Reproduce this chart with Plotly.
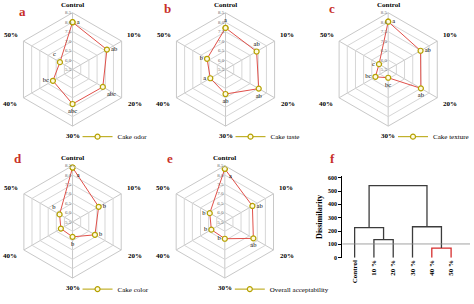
import math
import plotly.graph_objects as go

W, H = 474, 304

categories = ["Control", "10%", "20%", "30%", "40%", "50%"]

odor = [8.0, 7.6, 7.35, 7.33, 6.7, 6.27]
taste = [7.7, 7.4, 7.53, 6.8, 6.43, 6.63]
texture = [8.03, 7.48, 7.5, 5.94, 6.28, 6.06]
color = [8.4, 7.11, 6.88, 6.3, 6.22, 6.3]
overall = [8.33, 7.2, 7.26, 6.4, 6.33, 6.43]

odor_sig = ["a", "ab", "abc", "abc", "bc", "c"]
taste_sig = ["a", "ab", "ab", "ab", "a", "b"]
texture_sig = ["a", "ab", "ab", "bc", "bc", "c"]
color_sig = ["a", "b", "b", "b", "", "b"]
overall_sig = ["a", "ab", "ab", "b", "b", "b"]

series_names = ["Cake odor", "Cake taste", "Cake texture", "Cake color", "Overall acceptability"]
panel_letters = ["a", "b", "c", "d", "e", "f"]

leaves = ["Control", "10 %", "20 %", "30 %", "40 %", "50 %"]
# merges: (left node, right node, height); nodes 0..5 are leaves, 6.. are clusters
merges = [(1, 2, 135), (0, 6, 225), (4, 5, 72), (3, 8, 232), (7, 9, 540)]
cut_height = 103

SERIF = "Liberation Serif"
LINE_RED = "#e0504a"
OLIVE = "#b5a100"

# ---- layout geometry (pixels) ----
centers = [(72.7, 72.3), (226.0, 72.3), (389.0, 72.3), (72.7, 231.0), (225.3, 231.0)]
radii = [59, 59, 59, 58.5, 58.5]
textpos = [
    ["middle right", "middle right", "bottom right", "bottom center", "middle left", "top left"],
    ["top center", "top center", "bottom center", "bottom center", "middle left", "middle left"],
    ["middle right", "middle right", "bottom center", "bottom center", "middle left", "middle left"],
    ["bottom right", "middle right", "middle right", "bottom center", "middle left", "top left"],
    ["bottom right", "middle right", "bottom center", "middle left", "middle left", "middle left"],
]
data = [odor, taste, texture, color, overall]
sigs = [odor_sig, taste_sig, texture_sig, color_sig, overall_sig]

fig = go.Figure()
annotations = []
layout = dict(
    width=W, height=H, margin=dict(l=0, r=0, t=0, b=0),
    paper_bgcolor="white", plot_bgcolor="white",
    font=dict(family=SERIF, size=7, color="black"),
)

label_dist = [67, 71, 72, 69, 72, 71]
label_ang = [90, 30, -30, -90, -150, 150]

for i in range(5):
    pid = "polar" if i == 0 else f"polar{i+1}"
    lid = "legend" if i == 0 else f"legend{i+1}"
    cx, cy = centers[i]
    R = radii[i]
    vals = data[i]
    fig.add_trace(go.Scatterpolar(
        r=vals + [vals[0]], theta=categories + [categories[0]],
        mode="lines+markers+text", text=sigs[i] + [""],
        textposition=textpos[i] + ["middle right"],
        textfont=dict(family=SERIF, size=6.5, color="black"),
        line=dict(color=LINE_RED, width=1),
        marker=dict(symbol="circle", size=5, color="#fffbe0", line=dict(color=OLIVE, width=1.2)),
        subplot=pid, showlegend=False, cliponaxis=False,
    ))
    # legend entry
    fig.add_trace(go.Scatterpolar(
        r=[None], theta=[categories[0]], mode="lines+markers", name=series_names[i],
        line=dict(color=OLIVE, width=1),
        marker=dict(symbol="circle", size=5, color="#fffbe0", line=dict(color=OLIVE, width=1.2)),
        subplot=pid, showlegend=True, legend=lid,
    ))
    layout[pid] = dict(
        domain=dict(x=[(cx - R) / W, (cx + R) / W], y=[1 - (cy + R) / H, 1 - (cy - R) / H]),
        bgcolor="white",
        gridshape="linear",
        angularaxis=dict(categoryorder="array", categoryarray=categories,
                         direction="clockwise", rotation=90, showticklabels=False,
                         ticks="", linecolor="#c8c8c8", gridcolor="#c8c8c8", linewidth=1),
        radialaxis=dict(range=[5.5, 8.5], tick0=5.5, dtick=0.5, tickformat=".1f",
                        showline=False, ticks="", angle=90, tickangle=90,
                        side="counterclockwise", gridcolor="#d6d6d6",
                        tickfont=dict(family=SERIF, size=5, color="#666666")),
    )
    legy = cy + 70
    layout[lid] = dict(x=(cx + 5) / W, y=1 - legy / H, xanchor="left", yanchor="middle",
                       bgcolor="rgba(0,0,0,0)", font=dict(family=SERIF, size=7, color="black"),
                       itemwidth=30, tracegroupgap=0)
    for k, cat in enumerate(categories):
        a = math.radians(label_ang[k])
        d = label_dist[k]
        annotations.append(dict(
            x=(cx + d * math.cos(a)) / W, y=1 - (cy - d * math.sin(a)) / H,
            xref="paper", yref="paper", text=f"<b>{cat}</b>", showarrow=False,
            font=dict(family=SERIF, size=7, color="black"), xanchor="center", yanchor="middle"))

letter_pos = [(23, 12), (168, 9), (333, 9), (18, 165), (170, 165), (333, 165)]
for L, (lx, ly) in zip(panel_letters, letter_pos):
    annotations.append(dict(x=lx / W, y=1 - ly / H, xref="paper", yref="paper",
                            text=f"<b>{L}</b>", showarrow=False,
                            font=dict(family=SERIF, size=13, color="#c8302a"),
                            xanchor="center", yanchor="middle"))

# ---- dendrogram ----
node_x = {k: float(k) for k in range(len(leaves))}
node_h = {k: 0.0 for k in range(len(leaves))}
DEND = "#3c3c3c"
for j, (l, r, h) in enumerate(merges):
    nid = len(leaves) + j
    col = "#d62d2d" if (l < len(leaves) and r < len(leaves) and h < cut_height) else DEND
    fig.add_trace(go.Scatter(
        x=[node_x[l], node_x[l], node_x[r], node_x[r]],
        y=[node_h[l], h, h, node_h[r]],
        mode="lines", line=dict(color=col, width=1.3), showlegend=False,
        xaxis="x", yaxis="y", hoverinfo="skip"))
    node_x[nid] = (node_x[l] + node_x[r]) / 2
    node_h[nid] = h

fig.add_trace(go.Scatter(x=[-0.64, 5.98], y=[cut_height, cut_height], mode="lines",
                         line=dict(color="#8a8a8a", width=0.8), showlegend=False,
                         xaxis="x", yaxis="y", hoverinfo="skip"))

layout["xaxis"] = dict(domain=[343 / W, 471 / W], range=[-0.64, 5.98], tickvals=list(range(6)),
                       ticktext=[f"<b>{t}</b>" for t in leaves], tickangle=-90, showline=False,
                       showgrid=False, zeroline=False, ticks="", anchor="y",
                       tickfont=dict(family=SERIF, size=7, color="black"))
layout["yaxis"] = dict(domain=[1 - 268.3 / H, 1 - 183.3 / H], range=[0, 612], tickvals=[0, 100, 200, 300, 400, 500, 600],
                       ticktext=[f"<b>{v}</b>" for v in [0, 100, 200, 300, 400, 500, 600]],
                       showline=True, linecolor="black", linewidth=1, ticks="outside", ticklen=3,
                       tickcolor="black", showgrid=False, zeroline=False, anchor="x",
                       title=dict(text="<b>Dissimilarity</b>", font=dict(family=SERIF, size=8), standoff=4),
                       tickfont=dict(family=SERIF, size=6, color="black"))

layout["annotations"] = annotations
fig.update_layout(**layout)
fig.write_html("out.html")
